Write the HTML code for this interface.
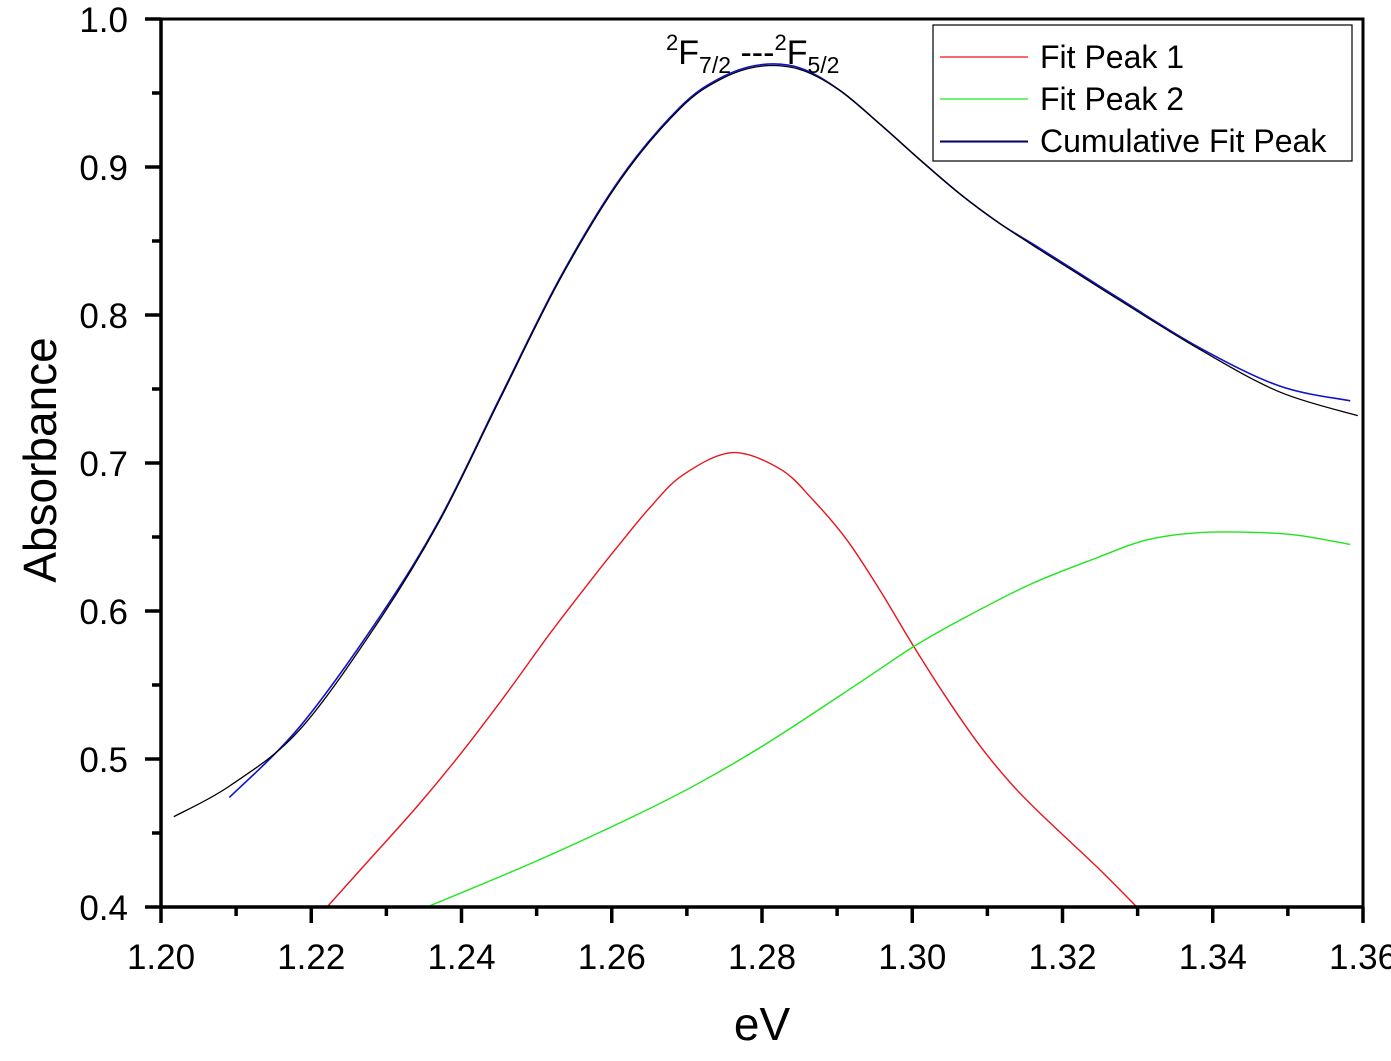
<!DOCTYPE html>
<html><head><meta charset="utf-8"><style>
body{margin:0;background:#fff;}
svg text{font-family:"Liberation Sans",Arial,sans-serif;fill:#000;}
</style></head><body>
<svg id="chart" width="1391" height="1056" viewBox="0 0 1391 1056" xmlns="http://www.w3.org/2000/svg">
<g id="curves"></g>
<g id="axes"></g>
<text x="666" y="64" font-size="34">
<tspan font-size="22" dy="-14">2</tspan><tspan dy="14">F</tspan><tspan font-size="23" dy="9">7/2</tspan><tspan dy="-9"> ---</tspan><tspan font-size="22" dy="-14">2</tspan><tspan dy="14">F</tspan><tspan font-size="23" dy="9">5/2</tspan></text>
<text x="762" y="1040" font-size="46" text-anchor="middle">eV</text>
<text transform="translate(56,460) rotate(-90)" font-size="46" text-anchor="middle">Absorbance</text>
<g>
<rect x="933" y="25" width="419" height="136" fill="#fff" stroke="#000" stroke-width="1.2"/>
<line x1="940" y1="57" x2="1028" y2="57" stroke="#e8141e" stroke-width="1.3"/>
<text x="1040" y="68" font-size="32">Fit Peak 1</text>
<line x1="940" y1="99" x2="1028" y2="99" stroke="#1ee61e" stroke-width="1.3"/>
<text x="1040" y="110" font-size="32">Fit Peak 2</text>
<line x1="940" y1="142" x2="1028" y2="142" stroke="#1010d0" stroke-width="1.3"/>
<line x1="940" y1="141" x2="1028" y2="141" stroke="#000" stroke-width="1"/>
<text x="1040" y="152" font-size="32">Cumulative Fit Peak</text>
</g>
</svg>
<script>
const xTicks=[1.20,1.22,1.24,1.26,1.28,1.30,1.32,1.34,1.36];
const xTickLabels=["1.20","1.22","1.24","1.26","1.28","1.30","1.32","1.34","1.36"];
const yTicks=[0.4,0.5,0.6,0.7,0.8,0.9,1.0];
const yTickLabels=["0.4","0.5","0.6","0.7","0.8","0.9","1.0"];
const cumX=[1.2017,1.2092,1.2185,1.2291,1.2371,1.2451,1.2531,1.2611,1.2690,1.2744,1.2797,1.2850,1.2903,1.2957,1.3010,1.3063,1.3116,1.3170,1.3223,1.3276,1.3382,1.3489,1.3593];
const cumY=[0.461,0.482,0.520,0.594,0.661,0.743,0.824,0.891,0.939,0.959,0.968,0.966,0.952,0.929,0.905,0.882,0.862,0.844,0.827,0.810,0.777,0.748,0.732];
const dataX=[1.2091,1.2185,1.2291,1.2371,1.2451,1.2531,1.2611,1.2690,1.2744,1.2797,1.2850,1.2903,1.2957,1.3010,1.3063,1.3116,1.3170,1.3223,1.3276,1.3382,1.3489,1.3583];
const dataY=[0.474,0.522,0.596,0.662,0.744,0.825,0.892,0.940,0.960,0.969,0.967,0.952,0.929,0.905,0.882,0.862,0.845,0.828,0.811,0.778,0.752,0.742];
const p1X=[1.2221,1.2274,1.2341,1.2398,1.2461,1.2518,1.2571,1.2607,1.2651,1.2695,1.2760,1.2824,1.2868,1.2913,1.2957,1.3002,1.3046,1.3090,1.3134,1.3179,1.3246,1.3299];
const p1Y=[0.400,0.430,0.468,0.503,0.545,0.585,0.620,0.643,0.670,0.692,0.707,0.696,0.675,0.648,0.614,0.576,0.541,0.509,0.482,0.459,0.427,0.400];
const p2X=[1.2354,1.2495,1.2628,1.2717,1.2811,1.2934,1.3002,1.3068,1.3157,1.3246,1.3312,1.3383,1.3463,1.3516,1.3583];
const p2Y=[0.400,0.430,0.461,0.484,0.512,0.553,0.576,0.595,0.618,0.636,0.648,0.653,0.653,0.651,0.645];

const X0=161,X1=1363,Y0=907,Y1=19;
function sx(v){return X0+(v-1.20)/(1.36-1.20)*(X1-X0);}
function sy(v){return Y0-(v-0.4)/(1.0-0.4)*(Y0-Y1);}
const NS="http://www.w3.org/2000/svg";
function pathFrom(xs,ys){
  const p=xs.map((x,i)=>[sx(x),sy(ys[i])]);
  let d="M"+p[0][0]+","+p[0][1];
  for(let i=0;i<p.length-1;i++){
    const a=p[Math.max(0,i-1)],b=p[i],c=p[i+1],e=p[Math.min(p.length-1,i+2)];
    const c1=[b[0]+(c[0]-a[0])/6,b[1]+(c[1]-a[1])/6];
    const c2=[c[0]-(e[0]-b[0])/6,c[1]-(e[1]-b[1])/6];
    d+=" C"+c1+" "+c2+" "+c;
  }
  return d;
}
const curves=document.getElementById('curves');
function addCurve(xs,ys,color,w,name){
  const el=document.createElementNS(NS,'path');
  el.setAttribute('d',pathFrom(xs,ys));
  el.setAttribute('fill','none');el.setAttribute('stroke',color);el.setAttribute('stroke-width',w);
  
  
  curves.appendChild(el);
}
addCurve(p1X,p1Y,'#e8141e',1.4,'fit-peak-1-curve');
addCurve(p2X,p2Y,'#1ee61e',1.4,'fit-peak-2-curve');
addCurve(dataX,dataY,'#1010d0',1.6,'data-curve');
addCurve(cumX,cumY,'#000',1.3,'cumulative-fit-curve');

const axes=document.getElementById('axes');
function line(x1,y1,x2,y2,w,name){
  const el=document.createElementNS(NS,'line');
  el.setAttribute('x1',x1);el.setAttribute('y1',y1);el.setAttribute('x2',x2);el.setAttribute('y2',y2);
  el.setAttribute('stroke','#000');el.setAttribute('stroke-width',w);
  
  
  axes.appendChild(el);
}
function text(x,y,s,anchor,name){
  const el=document.createElementNS(NS,'text');
  el.setAttribute('x',x);el.setAttribute('y',y);el.setAttribute('font-size','35');el.setAttribute('text-anchor',anchor);
  el.textContent=s;
  
  
  axes.appendChild(el);
}
line(X0,Y1,X1+1.5,Y1,3,'top-frame');
line(X1,Y1,X1,Y0,3,'right-frame');
line(X0,Y1-1.5,X0,Y0+1.5,3.5,'y-axis-line');
line(X0-1.5,Y0,X1+1.5,Y0,3.5,'x-axis-line');
xTicks.forEach((v,i)=>{
  line(sx(v),Y0,sx(v),Y0+16,3.5,'x-tick');
  text(sx(v),Y0+62,xTickLabels[i],'middle','x-tick-label');
  if(i<xTicks.length-1){const m=(v+xTicks[i+1])/2;line(sx(m),Y0,sx(m),Y0+9,3.5,'x-minor-tick');}
});
yTicks.forEach((v,i)=>{
  line(X0-16,sy(v),X0,sy(v),3.5,'y-tick');
  text(X0-33,sy(v)+13,yTickLabels[i],'end','y-tick-label');
  if(i<yTicks.length-1){const m=(v+yTicks[i+1])/2;line(X0-9,sy(m),X0,sy(m),3.5,'y-minor-tick');}
});
</script>
</body></html>
